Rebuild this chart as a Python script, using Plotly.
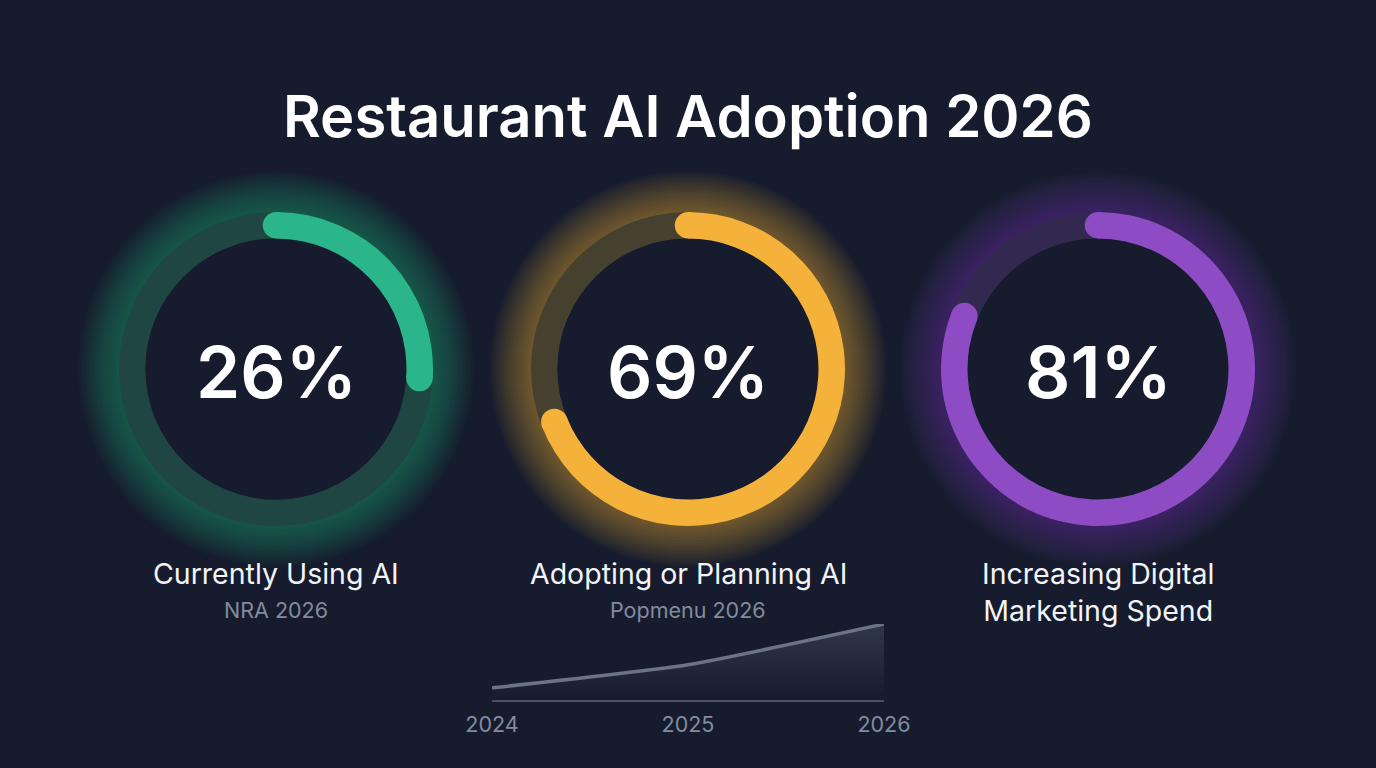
import plotly.graph_objects as go

# ---------------- data ----------------
categories = ["Currently Using AI", "Adopting or Planning AI", "Increasing Digital<br>Marketing Spend"]
values = [26, 69, 81]
sources = ["NRA 2026", "Popmenu 2026", ""]
value_labels = ["26%", "69%", "81%"]
trend_years = [2024, 2025, 2026]
trend_values = [11, 32, 69]
title_text = "Restaurant AI Adoption 2026"

# ---------------- style ----------------
W, H = 1376, 768
BG = "#161c2d"
arc_colors = ["#2bb58a", "#f5b23a", "#8e4cc4"]
track_colors = ["#1f4642", "#46412f", "#33284f"]
glow_rgb = [(43, 181, 138), (245, 178, 58), (142, 76, 196)]
centers_x = [276, 688, 1098]
center_y = 369
R_OUT, R_IN = 157, 130.5
HALF = 200  # polar domain half-size in px
FONT = "Inter"

fig = go.Figure()
layout_polars = {}

for i, v in enumerate(values):
    pname = "polar" if i == 0 else f"polar{i+1}"
    sub = pname
    cx = centers_x[i]
    r, g, b = glow_rgb[i]
    # glow: overlapping translucent annuli outside the ring
    n = 18
    for k in range(1, n + 1):
        fig.add_trace(go.Barpolar(
            r=[k * 2.6], base=[R_OUT - 6], theta=[180], width=[360],
            marker=dict(color=f"rgba({r},{g},{b},0.032)", line=dict(width=0)),
            subplot=sub, hoverinfo="skip", showlegend=False))
    # track
    fig.add_trace(go.Barpolar(
        r=[R_OUT - R_IN], base=[R_IN], theta=[180], width=[360],
        marker=dict(color=track_colors[i], line=dict(width=0)),
        subplot=sub, hoverinfo="skip", showlegend=False))
    # inner disc
    fig.add_trace(go.Barpolar(
        r=[R_IN], base=[0], theta=[180], width=[360],
        marker=dict(color="#161c2e", line=dict(width=0)),
        subplot=sub, hoverinfo="skip", showlegend=False))
    # value arc
    ang = v * 3.6
    fig.add_trace(go.Barpolar(
        r=[R_OUT - R_IN], base=[R_IN], theta=[ang / 2], width=[ang],
        marker=dict(color=arc_colors[i], line=dict(width=0)),
        subplot=sub, hoverinfo="skip", showlegend=False))
    # rounded caps
    fig.add_trace(go.Scatterpolar(
        r=[(R_OUT + R_IN) / 2] * 2, theta=[0, ang], mode="markers",
        marker=dict(size=R_OUT - R_IN, color=arc_colors[i], line=dict(width=0)),
        subplot=sub, hoverinfo="skip", showlegend=False))

    layout_polars[pname] = dict(
        domain=dict(x=[(cx - HALF) / W, (cx + HALF) / W],
                    y=[1 - (center_y + HALF) / H, 1 - (center_y - HALF) / H]),
        bgcolor="rgba(0,0,0,0)",
        bargap=0,
        radialaxis=dict(visible=False, range=[0, HALF]),
        angularaxis=dict(visible=False, rotation=90, direction="clockwise"),
    )

# trend area chart
fig.add_trace(go.Scatter(
    x=trend_years, y=trend_values, mode="lines",
    line=dict(color="#6a7388", width=3.5, shape="spline", smoothing=0.5),
    fill="tozeroy",
    fillgradient=dict(type="vertical",
                      colorscale=[[0, "rgba(110,118,140,0.0)"], [1, "rgba(110,118,140,0.30)"]]),
    xaxis="x", yaxis="y", hoverinfo="skip", showlegend=False))

annotations = []
annotations.append(dict(text=title_text, x=0.5, y=1 - 116 / H, xref="paper", yref="paper",
                        xanchor="center", yanchor="middle", showarrow=False,
                        font=dict(family=FONT, size=58, color="#ffffff", weight=600)))
for i in range(3):
    cx = centers_x[i]
    annotations.append(dict(text=value_labels[i], x=cx / W, y=1 - 372 / H, xref="paper", yref="paper",
                            xanchor="center", yanchor="middle", showarrow=False,
                            font=dict(family=FONT, size=71, color="#ffffff", weight=600)))
    annotations.append(dict(text=categories[i], x=cx / W, y=1 - 554 / H, xref="paper", yref="paper",
                            xanchor="center", yanchor="top", showarrow=False,
                            font=dict(family=FONT, size=28.5, color="#f2f4f7")))
    if sources[i]:
        annotations.append(dict(text=sources[i], x=cx / W, y=1 - 610 / H, xref="paper", yref="paper",
                                xanchor="center", yanchor="middle", showarrow=False,
                                font=dict(family=FONT, size=21.5, color="#838b9d")))

fig.update_layout(
    width=W, height=H, autosize=False,
    margin=dict(l=0, r=0, t=0, b=0, pad=0, autoexpand=False),
    paper_bgcolor=BG, plot_bgcolor="rgba(0,0,0,0)",
    showlegend=False,
    annotations=annotations,
    xaxis=dict(domain=[492 / W, 884 / W], range=[2024, 2026], tickvals=trend_years,
               ticktext=[str(y) for y in trend_years], showgrid=False, zeroline=False,
               showline=True, linecolor="#4a5266", linewidth=1.5, ticks="",
               ticklabelstandoff=4,
               tickfont=dict(family=FONT, size=21.5, color="#838b9d"), fixedrange=True),
    yaxis=dict(domain=[1 - 700 / H, 1 - 624 / H], range=[0, 69], visible=False, fixedrange=True),
    **layout_polars,
)

fig.write_html("out.html")
